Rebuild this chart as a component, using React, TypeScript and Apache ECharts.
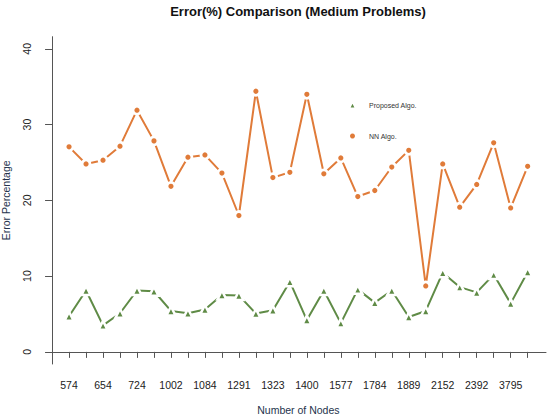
import React, { useEffect, useRef } from "react";
import * as echarts from "echarts";

const tickLabels = ["574", "654", "724", "1002", "1084", "1291", "1323", "1400", "1577", "1784", "1889", "2152", "2392", "3795"];
const proposed = [4.7, 8.1, 3.5, 5.1, 8.1, 8.0, 5.4, 5.1, 5.6, 7.5, 7.45, 5.07, 5.5, 9.27, 4.2, 8.1, 3.8, 8.25, 6.5, 8.1, 4.6, 5.4, 10.45, 8.55, 7.85, 10.2, 6.4, 10.55];
const nn = [27.06, 24.8, 25.3, 27.15, 31.9, 27.85, 21.85, 25.7, 26.0, 23.6, 18.0, 34.4, 23.0, 23.7, 34.0, 23.5, 25.6, 20.5, 21.3, 24.4, 26.6, 8.7, 24.8, 19.1, 22.1, 27.6, 19.0, 24.5];
const yTicks = [0, 10, 20, 30, 40];

export default function App() {
  const ref = useRef<HTMLDivElement>(null);
  useEffect(() => {
    document.body.style.margin = "0";
    const chart = echarts.init(ref.current!, null, { renderer: "svg" });
    const n = nn.length;
    const xTicks = nn.map((_, i) => i + 1);
    const xLabelPos = tickLabels.map((_, i) => 2 * i + 1);
    const green = "#5f8b46";
    const orange = "#e07b39";
    chart.setOption({
      animation: false,
      backgroundColor: "#ffffff",
      title: {
        text: "Error(%) Comparison (Medium Problems)",
        left: 298,
        top: 5,
        padding: 0,
        textAlign: "center",
        textStyle: { fontFamily: "Liberation Sans, Arial", fontWeight: "bold", fontSize: 13, color: "#111" },
      },
      legend: {
        orient: "vertical",
        left: 343,
        top: 95.5,
        itemWidth: 7,
        itemHeight: 7,
        itemGap: 22,
        data: [
          { name: "Proposed Algo.", icon: "triangle" },
          { name: "NN Algo.", icon: "circle" },
        ],
        textStyle: { fontFamily: "Liberation Sans, Arial", fontSize: 7, color: "#333", padding: [0, 0, 0, 8] },
      },
      grid: { left: 50.7, right: 4, top: 36.7, bottom: 54, outerBoundsMode: "none", containLabel: false },
      xAxis: {
        type: "value",
        min: -0.08,
        max: n + 1.08,
        name: "Number of Nodes",
        nameLocation: "middle",
        nameGap: 40,
        nameTextStyle: { fontFamily: "Liberation Sans, Arial", fontSize: 10.5, color: "#25334d" },
        axisLine: { show: true, lineStyle: { color: "#555", width: 1 } },
        axisTick: { show: true, customValues: xTicks, length: 6, lineStyle: { color: "#555" } },
        axisLabel: {
          customValues: xLabelPos,
          margin: 15,
          fontFamily: "Liberation Sans, Arial",
          fontSize: 10.5,
          color: "#222",
          formatter: (v: number) => tickLabels[Math.round((v - 1) / 2)] ?? "",
        },
        splitLine: { show: false },
      },
      yAxis: {
        type: "value",
        min: -1.6,
        max: 41.6,
        name: "Error Percentage",
        nameLocation: "middle",
        nameGap: 39,
        nameTextStyle: { fontFamily: "Liberation Sans, Arial", fontSize: 10.5, color: "#25334d" },
        axisLine: { show: true, lineStyle: { color: "#555", width: 1 } },
        axisTick: { show: true, customValues: yTicks, length: 7, lineStyle: { color: "#555" } },
        axisLabel: {
          customValues: yTicks,
          rotate: 90,
          margin: 18,
          fontFamily: "Liberation Sans, Arial",
          fontSize: 10.5,
          color: "#222",
        },
        splitLine: { show: false },
      },
      series: [
        {
          name: "Proposed Algo.",
          type: "line",
          data: proposed.map((v, i) => [i + 1, v]),
          symbol: "triangle",
          symbolSize: 9,
          showAllSymbol: true,
          lineStyle: { color: green, width: 2 },
          itemStyle: { color: green, borderColor: "#fff", borderWidth: 2.5 },
        },
        {
          name: "NN Algo.",
          type: "line",
          data: nn.map((v, i) => [i + 1, v]),
          symbol: "circle",
          symbolSize: 8,
          showAllSymbol: true,
          lineStyle: { color: orange, width: 2 },
          itemStyle: { color: orange, borderColor: "#fff", borderWidth: 2.8 },
        },
      ],
    });
    return () => chart.dispose();
  }, []);
  return <div ref={ref} style={{ position: "absolute", left: 0, top: 0, width: 550, height: 418 }} />;
}
